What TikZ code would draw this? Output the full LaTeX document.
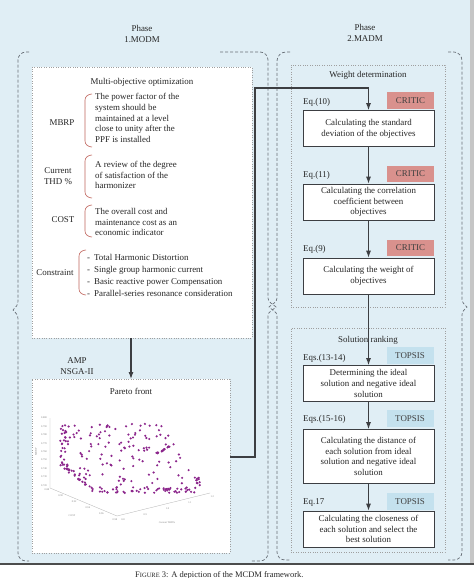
\documentclass[tikz,border=0pt]{standalone}
\usepackage{fontspec}
\setmainfont{Liberation Serif}
\usetikzlibrary{arrows.meta}

\definecolor{panel}{RGB}{224,238,245}
\definecolor{criticred}{RGB}{217,145,141}
\definecolor{topsisblue}{RGB}{196,225,238}
\definecolor{brkred}{RGB}{192,100,92}
\definecolor{dotpurple}{RGB}{140,38,140}
\definecolor{framegray}{RGB}{105,112,120}
\definecolor{linegray}{RGB}{60,62,66}

\begin{document}
\begin{tikzpicture}
  [x=1pt,y=-1pt,font=\fontsize{8.9}{10.8}\selectfont,
   dotbox/.style={draw=gray!75,dash pattern=on 0.8pt off 1.6pt,inner sep=0pt,outer sep=0pt},
   stepbox/.style={draw=linegray,fill=white,line width=0.6pt,minimum width=131pt,minimum height=36pt,align=center,inner sep=1pt,text=black!85},
   tag/.style={minimum width=47pt,minimum height=16.5pt,inner sep=0pt,text=black!75},
   eqlabel/.style={anchor=west,inner sep=0pt,text=black!85},
   desc/.style={anchor=west,align=left,inner sep=0pt,text=black!85},
   frame/.style={draw=framegray,line width=0.7pt,dash pattern=on 3pt off 2pt},
   brk/.style={draw=brkred,line width=0.6pt},
   line/.style={draw=linegray,line width=1.1pt},
   arrow/.style={line,-{Latex[length=7pt,width=5pt]}},
   pt/.style={fill=dotpurple},
   tick/.style={font=\fontsize{2.6}{3}\selectfont,text=gray,inner sep=0pt}]

  \clip (0,0) rectangle (474,578);
  \fill[white] (0,0) rectangle (474,578);
  \fill[panel] (0,0) rectangle (470,564);
  \fill[gray!45] (470,0) rectangle (474,564);
  \draw[black!70,line width=1.2pt] (0,564) -- (474,564);

  % phase titles
  \node[align=center,text=black!85] (phase1) at (142,34) {Phase\\1.MODM};
  \node[align=center,text=black!85] (phase2) at (365,33) {Phase\\2.MADM};

  % phase frames
  \draw[frame] (29,52) -- (26,52) to[out=180,in=90] (18,60) -- (18,301)
    to[out=-90,in=45] (13,310) to[out=-45,in=90] (18,319) -- (18,553)
    to[out=-90,in=180] (26,561) -- (29,561);
  \draw[frame] (220,52) -- (260,52) to[out=0,in=90] (268,60) -- (268,298)
    to[out=-90,in=135] (276,307) to[out=-135,in=90] (268,316) -- (268,553)
    to[out=-90,in=0] (260,561) -- (250,561);
  \draw[frame] (290,52) -- (286,52) to[out=180,in=90] (277,61) -- (277,298)
    to[out=-90,in=45] (269,307) to[out=-45,in=90] (277,316) -- (277,552)
    to[out=-90,in=180] (285,560) -- (290,560);
  \draw[frame] (448,52) -- (454,52) to[out=0,in=90] (462,61) -- (462,299)
    to[out=-90,in=135] (467,307) to[out=-135,in=90] (462,315) -- (462,552)
    to[out=-90,in=0] (454,560) -- (448,560);

  % phase 1
  \node[dotbox,fill=white,minimum width=220pt,minimum height=271pt] (multi) at (142,202.5) {};
  \node[text=black!85] (multititle) at (142,82) {Multi-objective optimization};

  \node[text=black!85] (mbrp) at (62,123) {MBRP};
  \node[align=center,text=black!85] (thd) at (58,176.5) {Current\\THD \%};
  \node[text=black!85] (cost) at (63,220) {COST};
  \node[text=black!85] (cons) at (55,273) {Constraint};

  \node[desc] (mbrptext) at (95,118) {The power factor of the\\system should be\\maintained at a level\\close to unity after the\\PPF is installed};
  \node[desc] (thdtext) at (95,175) {A review of the degree\\of satisfaction of the\\harmonizer};
  \node[desc] (costtext) at (95,222) {The overall cost and\\maintenance cost as an\\economic indicator};
  \node[desc,font=\fontsize{8.9}{12}\selectfont] (constext) at (87,275) {-\hspace{4pt}Total Harmonic Distortion\\-\hspace{4pt}Single group harmonic current\\-\hspace{4pt}Basic reactive power Compensation\\-\hspace{4pt}Parallel-series resonance consideration};

  % red brackets
  \draw[brk] (92,94) to[out=180,in=90] (85,100) -- (85,141) to[out=-90,in=180] (92,147);
  \draw[brk] (92,155) to[out=180,in=90] (85,161) -- (85,192) to[out=-90,in=180] (92,198);
  \draw[brk] (92,205) to[out=180,in=90] (85,211) -- (85,231) to[out=-90,in=180] (92,237);
  \draw[brk] (86,250) to[out=180,in=90] (79,256) -- (79,289) to[out=-90,in=180] (86,295);

  \node[align=center,text=black!85] (amp) at (77,366.5) {AMP\\NSGA-II};
  \node[dotbox,fill=white,minimum width=198pt,minimum height=174pt] (pareto) at (131,466) {};
  \node[text=black!85] (paretotitle) at (131,391) {Pareto front};

  % pareto plot
  \draw[gray!60,line width=0.3pt] (50,418) -- (50,488) -- (117,516) -- (210,493);
  \foreach \v [count=\k from 0] in {0.800,0.790,0.780,0.770,0.760,0.750,0.740,0.730,0.720}
    \node[tick] at (44,418+8.4*\k) {\v};
  \foreach \v [count=\k from 0] in {0.88,0.90,0.92,0.94,0.96,0.98}
    \node[tick] at (47+13.6*\k,490+6*\k) {\v};
  \foreach \v [count=\k from 0] in {0.8,0.9,1.0,1.1,1.2}
    \node[tick] at (123+22.3*\k,520-5.8*\k) {\v};
  \node[tick,rotate=90] at (36,452) {MBRP};
  \node[tick] at (72,516) {COST};
  \node[tick] at (167,523) {Current THD\%};

  \pgfmathsetseed{7}
  \foreach \i in {1,...,48}{
    \pgfmathsetmacro{\px}{62+108*rnd}
    \pgfmathsetmacro{\py}{423+16*rnd}
    \fill[pt] (\px,\py) circle (1.2pt);
  }
  \foreach \i in {1,...,26}{
    \pgfmathsetmacro{\px}{60+9*rnd}
    \pgfmathsetmacro{\py}{428+42*rnd}
    \fill[pt] (\px,\py) circle (1.2pt);
  }
  \foreach \i in {1,...,18}{
    \pgfmathsetmacro{\t}{rnd}
    \pgfmathsetmacro{\px}{156+19*\t}
    \pgfmathsetmacro{\py}{453-10*\t+1.5*rnd}
    \fill[pt] (\px,\py) circle (1.2pt);
  }
  \foreach \i in {1,...,22}{
    \pgfmathsetmacro{\t}{rnd}
    \pgfmathsetmacro{\px}{62+28*\t}
    \pgfmathsetmacro{\py}{462+24*\t+3*rnd}
    \fill[pt] (\px,\py) circle (1.2pt);
  }
  \foreach \i in {1,...,60}{
    \pgfmathsetmacro{\px}{86+112*rnd}
    \pgfmathsetmacro{\py}{487+6*rnd}
    \fill[pt] (\px,\py) circle (1.2pt);
  }
  \foreach \i in {1,...,75}{
    \pgfmathsetmacro{\px}{68+124*rnd}
    \pgfmathsetmacro{\py}{441+44*rnd}
    \fill[pt] (\px,\py) circle (1.2pt);
  }
  \foreach \i in {1,...,10}{
    \pgfmathsetmacro{\px}{194+6*rnd}
    \pgfmathsetmacro{\py}{477+13*rnd}
    \fill[pt] (\px,\py) circle (1.2pt);
  }

  % phase 2
  \node[dotbox,minimum width=154pt,minimum height=242pt] (weight) at (368,186) {};
  \node[text=black!85] (weighttitle) at (368,75) {Weight determination};
  \node[dotbox,minimum width=154pt,minimum height=224pt] (ranking) at (368,440) {};
  \node[text=black!85] (rankingtitle) at (368,340) {Solution ranking};

  \node[stepbox] (std) at (368.5,128.5) {Calculating the standard\\deviation of the objectives};
  \node[stepbox] (corr) at (368.5,202) {Calculating the correlation\\coefficient between\\objectives};
  \node[stepbox] (wgt) at (368.5,276) {Calculating the weight of\\objectives};
  \node[stepbox] (ideal) at (368.5,383.5) {Determining the ideal\\solution and negative ideal\\solution};
  \node[stepbox,minimum height=54pt] (dist) at (368.5,456.5) {Calculating the distance of\\each solution from ideal\\solution and negative ideal\\solution};
  \node[stepbox] (close) at (368.5,529) {Calculating the closeness of\\each solution and select the\\best solution};

  \node[tag,fill=criticred] (critic1) at (410.5,100.5) {CRITIC};
  \node[tag,fill=criticred] (critic2) at (410.5,174) {CRITIC};
  \node[tag,fill=criticred] (critic3) at (410.5,248) {CRITIC};
  \node[tag,fill=topsisblue] (topsis1) at (410,355.5) {TOPSIS};
  \node[tag,fill=topsisblue] (topsis2) at (410,418.5) {TOPSIS};
  \node[tag,fill=topsisblue] (topsis3) at (410,501.5) {TOPSIS};

  \node[eqlabel] (eq10) at (303,102) {Eq.(10)};
  \node[eqlabel] (eq11) at (303,175) {Eq.(11)};
  \node[eqlabel] (eq9) at (303,249) {Eq.(9)};
  \node[eqlabel] (eq1314) at (303,358) {Eqs.(13-14)};
  \node[eqlabel] (eq1516) at (303,419) {Eqs.(15-16)};
  \node[eqlabel] (eq17) at (303,503) {Eq.17};

  % connectors
  \coordinate (turn) at (255,88);
  \draw[arrow] (multi.south -| pareto.north) -- (pareto.north);
  \draw[arrow] ([yshift=9pt]pareto.east) -| (turn) -| (std.north);
  \draw[arrow] (std) -- (corr);
  \draw[arrow] (corr) -- (wgt);
  \draw[arrow] (wgt) -- (ideal);
  \draw[arrow] (ideal) -- (dist);
  \draw[arrow] (dist) -- (close);

  % caption
  \node[anchor=base west,inner sep=0pt,font=\fontsize{8.5}{10}\selectfont,text=black!85] (caption) at (135,577)
    {F{\fontsize{6.5}{8}\selectfont IGURE} 3: A depiction of the MCDM framework.};
\end{tikzpicture}
\end{document}
